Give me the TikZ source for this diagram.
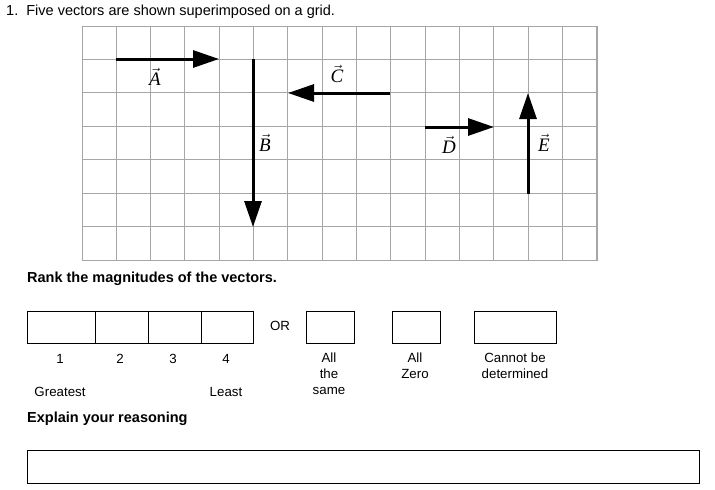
\documentclass[tikz,border=0pt]{standalone}
\usepackage{fontspec}
\setmainfont{Liberation Sans}
\newfontfamily\serifit{Liberation Serif}
\usetikzlibrary{arrows.meta}
\newcommand{\vlab}[1]{$\vec{\mbox{\serifit\itshape #1}}$}
\begin{document}
\begin{tikzpicture}[x=1pt,y=-1pt,
  vec/.style={line width=3pt,-{Triangle[length=26pt,width=17pt]}},
  lab/.style={font=\fontsize{19}{19}\selectfont,inner sep=0pt},
  txt/.style={font=\fontsize{14.5}{16}\selectfont,inner sep=0pt},
  sm/.style={font=\fontsize{13.3}{16}\selectfont,inner sep=0pt,align=center},
  box/.style={draw,line width=0.8pt}]
\useasboundingbox (0,0) rectangle (715,490);
\fill[white] (0,0) rectangle (715,490);
\draw[gray!70,line width=1pt,xstep=34.33pt,ystep=33.43pt,shift={(82,26)}] (0,0) grid (515,234);
\draw[gray!70,line width=1pt] (82,26) rectangle (597,260);
\coordinate (a1) at (116,59); \coordinate (a2) at (219,59);
\coordinate (b1) at (253,59); \coordinate (b2) at (253,227);
\coordinate (c1) at (390,93); \coordinate (c2) at (288,93);
\coordinate (d1) at (425,127); \coordinate (d2) at (494,127);
\coordinate (e1) at (528,194); \coordinate (e2) at (528,93);
\draw[vec] (a1) -- (a2);
\draw[vec] (b1) -- (b2);
\draw[vec] (c1) -- (c2);
\draw[vec] (d1) -- (d2);
\draw[vec] (e1) -- (e2);
\node[lab] (la) at (155,77) {\vlab{A}};
\node[lab] (lb) at (265,143) {\vlab{B}};
\node[lab] (lc) at (337,74) {\vlab{C}};
\node[lab] (ld) at (449,145) {\vlab{D}};
\node[lab] (le) at (544,143) {\vlab{E}};
\node[txt,anchor=west] (t1) at (6,12) {1.\ \ Five vectors are shown superimposed on a grid.};
\node[txt,anchor=west,font=\bfseries\fontsize{14.5}{16}\selectfont] (t2) at (27,279) {Rank the magnitudes of the vectors.};
\draw[box] (27,311) rectangle (95,343);
\draw[box] (95,311) rectangle (148,343);
\draw[box] (148,311) rectangle (201,343);
\draw[box] (201,311) rectangle (253,343);
\node[sm] (or) at (280,326) {OR};
\draw[box] (306,311) rectangle (354,343);
\draw[box] (392,311) rectangle (440,343);
\draw[box] (474,311) rectangle (556,343);
\node[sm] (n1) at (60,359) {1};
\node[sm] (n2) at (120,359) {2};
\node[sm] (n3) at (173,359) {3};
\node[sm] (n4) at (226,359) {4};
\node[sm,anchor=north] (s1) at (329,353) {All\\the\\same};
\node[sm,anchor=north] (s2) at (415,353) {All\\Zero};
\node[sm,anchor=north] (s3) at (515,353) {Cannot be\\determined};
\node[sm] (g) at (60,392) {Greatest};
\node[sm] (l) at (226,392) {Least};
\node[txt,anchor=west,font=\bfseries\fontsize{14.5}{16}\selectfont] (t3) at (27,419) {Explain your reasoning};
\draw[box] (27,450) rectangle (699,483);
\end{tikzpicture}
\end{document}
